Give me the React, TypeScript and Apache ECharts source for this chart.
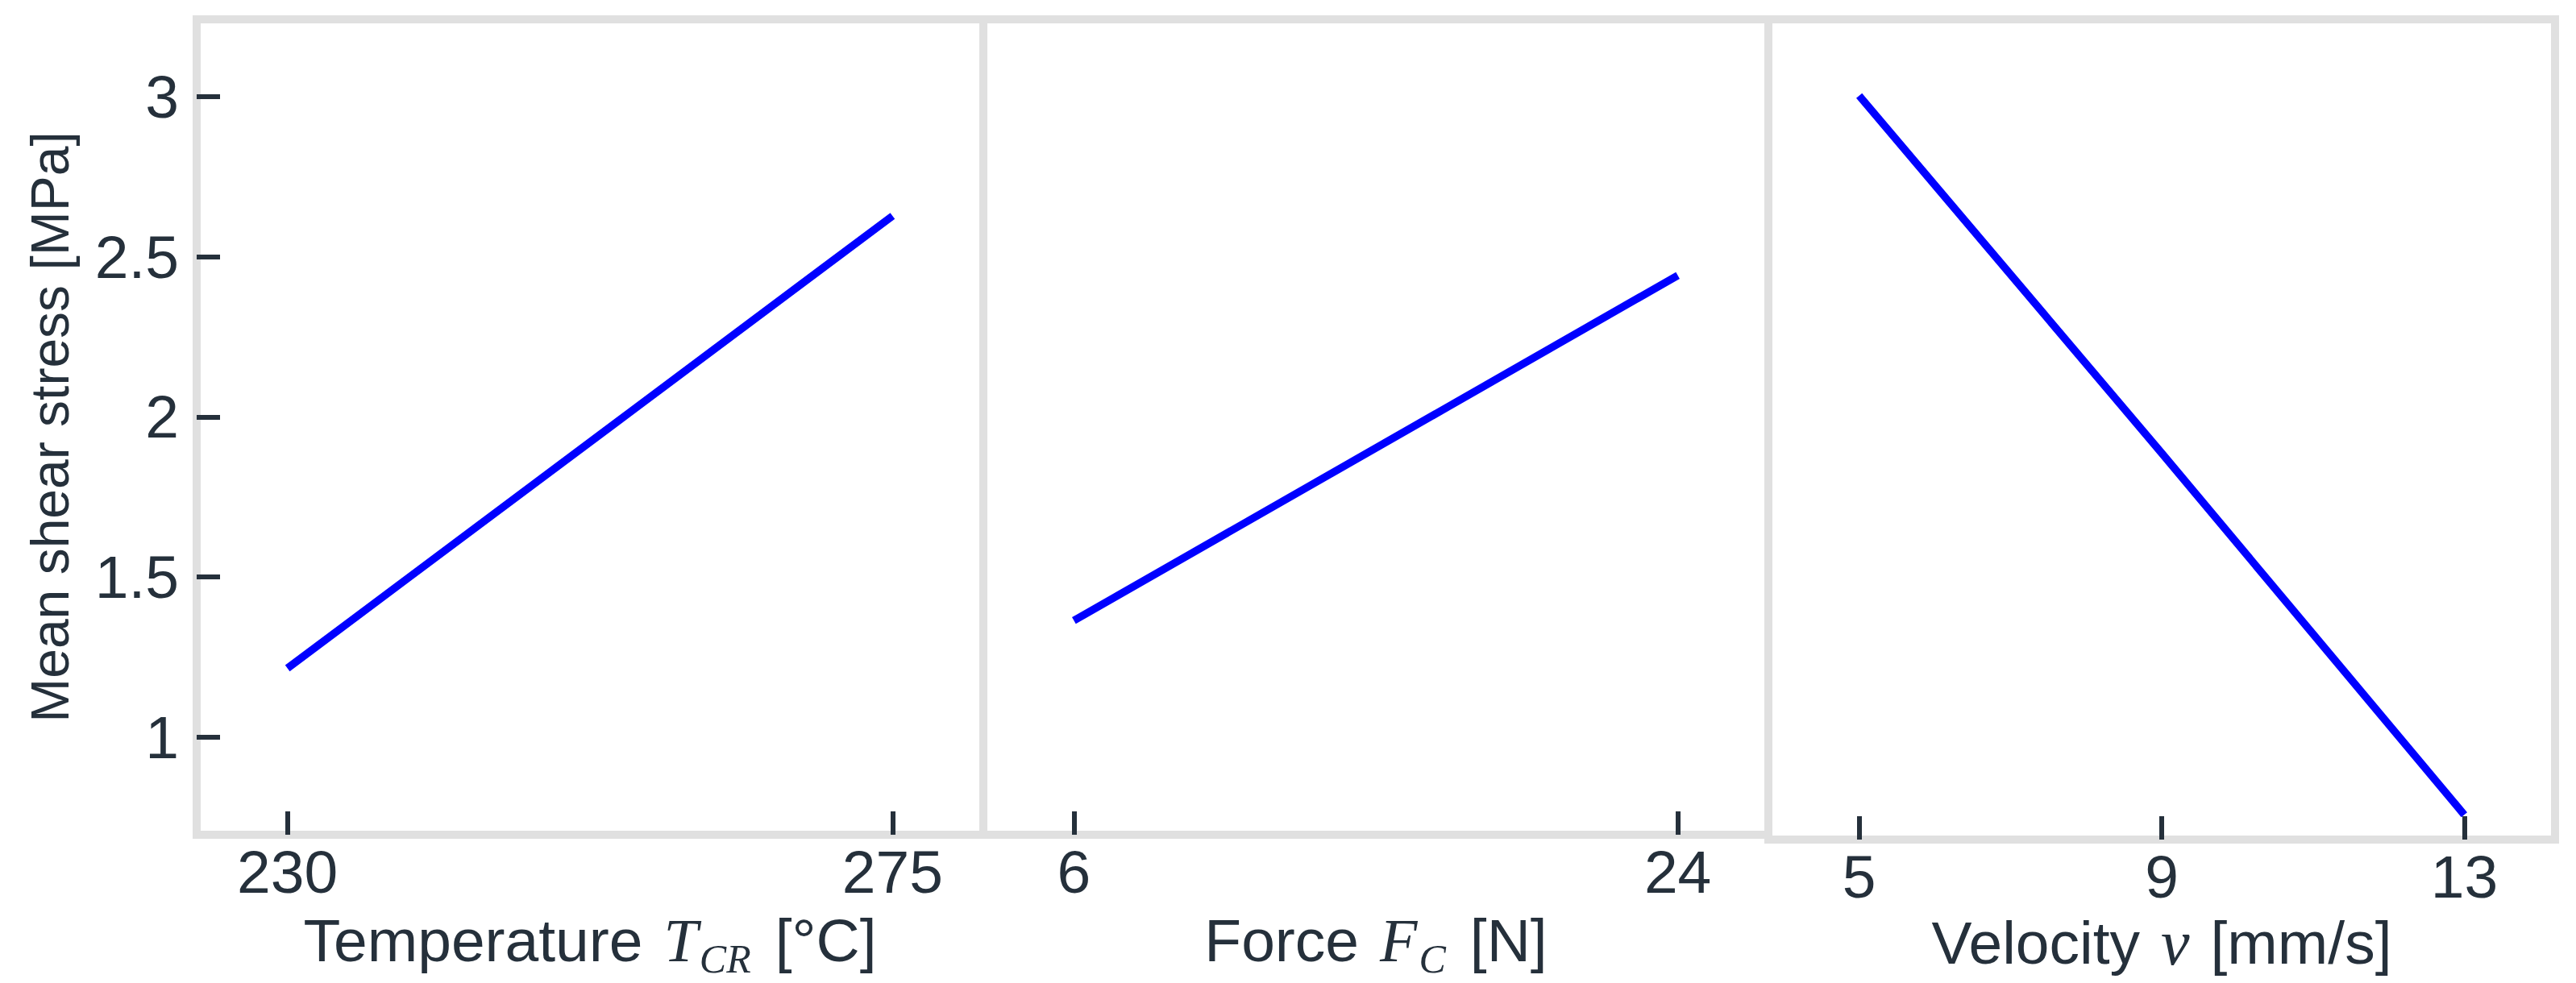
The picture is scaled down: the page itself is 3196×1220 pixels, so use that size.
import React, { useEffect, useRef } from "react";
import * as echarts from "echarts";

// ---- data ----
const tempLevels = [230, 275];
const tempMeans = [1.215, 2.628];
const forceLevels = [6, 24];
const forceMeans = [1.364, 2.442];
const velLevels = [5, 9, 13];
const velMeans = [3.005, 1.895, 0.772];

const yTicks = [1, 1.5, 2, 2.5, 3];
const tempTicks = [230, 275];
const forceTicks = [6, 24];
const velTicks = [5, 9, 13];

const yRange = [0.695, 3.242];
const tempRange = [223.25, 281.75];
const forceRange = [3.3, 26.7];
const velRange = [3.8, 14.2];

const yName = "Mean shear stress [MPa]";
const tempName = "{t|Temperature}{i|T}{s|CR}{t|[°C]}";
const forceName = "{t|Force}{i|F}{s|C}{t|[N]}";
const velName = "{t|Velocity}{iv|v}{t|[mm/s]}";

const FONT = "'Liberation Sans', Arial, Helvetica, sans-serif";
const MATH = "'Liberation Serif', 'DejaVu Serif', serif";
const TXT = "#25303b";
const BORDER = "#e0e0e0";

export default function App() {
  const ref = useRef<HTMLDivElement>(null);
  useEffect(() => {
    if (!ref.current) return;
    const chart = echarts.init(ref.current, undefined, { renderer: "svg" });

    const rich = {
      t: { fontFamily: FONT, fontSize: 75, color: TXT },
      i: {
        fontFamily: MATH,
        fontStyle: "italic",
        fontSize: 76,
        color: TXT,
        padding: [0, 2, 0, 26],
      },
      iv: {
        fontFamily: MATH,
        fontStyle: "italic",
        fontSize: 80,
        color: TXT,
        padding: [0, 26, 0, 26],
      },
      s: {
        fontFamily: MATH,
        fontStyle: "italic",
        fontSize: 50,
        color: TXT,
        padding: [46, 30, 0, 0],
      },
    };

    const grids = [
      { left: 244, width: 976, top: 24, height: 1018 },
      { left: 1220, width: 974, top: 24, height: 1018 },
      { left: 2194, width: 976, top: 24, height: 1018 },
    ].map((g) => ({
      ...g,
      show: true,
      borderColor: BORDER,
      borderWidth: 10,
      backgroundColor: "transparent",
      containLabel: false,
    }));

    const tick = {
      show: true,
      inside: true,
      length: 29,
      lineStyle: { color: TXT, width: 6 },
    };

    const mkX = (idx: number, range: number[], ticks: number[], name: string) => ({
      type: "value",
      gridIndex: idx,
      min: range[0],
      max: range[1],
      axisLine: { show: false },
      splitLine: { show: false },
      axisTick: { ...tick, customValues: ticks },
      axisLabel: {
        customValues: ticks,
        fontFamily: FONT,
        fontSize: 75,
        color: TXT,
        margin: 8,
      },
      name,
      nameLocation: "middle",
      nameGap: 83,
      nameTextStyle: { fontFamily: FONT, fontSize: 75, color: TXT, rich },
    });

    const mkY = (idx: number) => ({
      type: "value",
      gridIndex: idx,
      min: yRange[0],
      max: yRange[1],
      show: idx === 0,
      axisLine: { show: false },
      splitLine: { show: false },
      axisTick: { ...tick, customValues: yTicks },
      axisLabel: {
        customValues: yTicks,
        fontFamily: FONT,
        fontSize: 75,
        color: TXT,
        margin: 22,
      },
      name: idx === 0 ? yName : "",
      nameLocation: "middle",
      nameRotate: 90,
      nameGap: 149,
      nameTextStyle: { fontFamily: FONT, fontSize: 66, color: TXT },
    });

    const mkSeries = (idx: number, xs: number[], ys: number[]) => ({
      type: "line",
      xAxisIndex: idx,
      yAxisIndex: idx,
      data: xs.map((x, i) => [x, ys[i]]),
      showSymbol: false,
      symbol: "none",
      lineStyle: { color: "#0000ff", width: 9.5 },
      clip: false,
    });

    chart.setOption({
      animation: false,
      backgroundColor: "#ffffff",
      grid: grids,
      xAxis: [
        mkX(0, tempRange, tempTicks, tempName),
        mkX(1, forceRange, forceTicks, forceName),
        mkX(2, velRange, velTicks, velName),
      ],
      yAxis: [mkY(0), mkY(1), mkY(2)],
      series: [
        mkSeries(0, tempLevels, tempMeans),
        mkSeries(1, forceLevels, forceMeans),
        mkSeries(2, velLevels, velMeans),
      ],
    });

    return () => chart.dispose();
  }, []);

  return (
    <div
      ref={ref}
      style={{
        position: "fixed",
        left: 0,
        top: 0,
        width: 3196,
        height: 1220,
        background: "#fff",
      }}
    />
  );
}
